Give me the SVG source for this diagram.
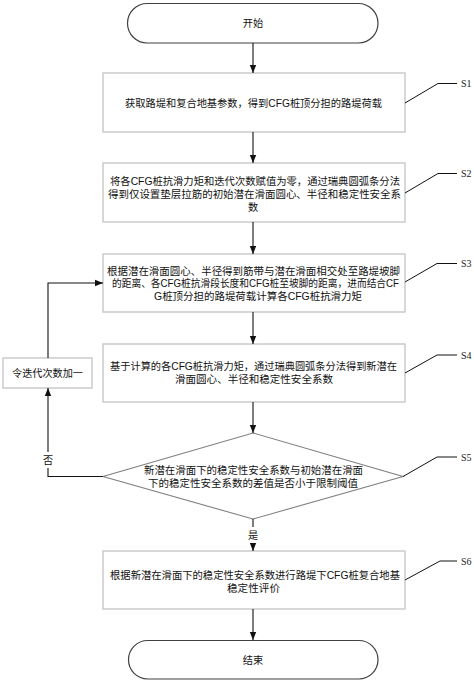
<svg xmlns="http://www.w3.org/2000/svg" width="474" height="684" viewBox="0 0 474 684">
<style>
.t{font-family:"Liberation Sans","Noto Sans CJK SC",sans-serif;font-size:10.2px;fill:#111;text-anchor:middle;dominant-baseline:central}
.lbl{font-family:"Liberation Serif",serif;font-size:10px;fill:#1a1a1a;dominant-baseline:central}
.box{fill:#fff;stroke:#c4c4c4;stroke-width:1.3}
.term{fill:#fff;stroke:#404040;stroke-width:1.2}
.dia{fill:#fff;stroke:#808080;stroke-width:1.1}
.ln{fill:none;stroke:#111;stroke-width:1.1}
.ld{fill:none;stroke:#111;stroke-width:1}
</style>
<defs>
<marker id="ah" markerUnits="userSpaceOnUse" markerWidth="8" markerHeight="8" viewBox="0 0 8 8" refX="8" refY="4" orient="auto">
<path d="M0,0.8 L8,4 L0,7.2 Z" fill="#111"/>
</marker>
</defs>
<rect width="474" height="684" fill="#fff"/>

<g id="start">
<rect class="term" x="127.5" y="3.5" width="250.5" height="39.5" rx="19.75"/>
<text class="t" x="253" y="23">开始</text>
</g>

<g id="s1">
<rect class="box" x="103" y="73" width="302" height="59"/>
<text class="t" x="253.5" y="103" textLength="257" lengthAdjust="spacingAndGlyphs">获取路堤和复合地基参数，得到CFG桩顶分担的路堤荷载</text>
</g>

<g id="s2">
<rect class="box" x="103" y="163" width="302" height="59"/>
<text class="t" x="255" y="181" textLength="290" lengthAdjust="spacingAndGlyphs">将各CFG桩抗滑力矩和迭代次数赋值为零，通过瑞典圆弧条分法</text>
<text class="t" x="254.5" y="194" textLength="293" lengthAdjust="spacingAndGlyphs">得到仅设置垫层拉筋的初始潜在滑面圆心、半径和稳定性安全系</text>
<text class="t" x="253" y="207">数</text>
</g>

<g id="s3">
<rect class="box" x="103" y="254" width="302" height="58"/>
<text class="t" x="253.5" y="271" textLength="293" lengthAdjust="spacingAndGlyphs">根据潜在滑面圆心、半径得到筋带与潜在滑面相交处至路堤坡脚</text>
<text class="t" x="255.5" y="283.5" textLength="287" lengthAdjust="spacingAndGlyphs">的距离、各CFG桩抗滑段长度和CFG桩至坡脚的距离，进而结合CF</text>
<text class="t" x="258" y="296" textLength="208" lengthAdjust="spacingAndGlyphs">G桩顶分担的路堤荷载计算各CFG桩抗滑力矩</text>
</g>

<g id="s4">
<rect class="box" x="103" y="344" width="302" height="58"/>
<text class="t" x="253.5" y="366.5" textLength="287" lengthAdjust="spacingAndGlyphs">基于计算的各CFG桩抗滑力矩，通过瑞典圆弧条分法得到新潜在</text>
<text class="t" x="254" y="379" textLength="158" lengthAdjust="spacingAndGlyphs">滑面圆心、半径和稳定性安全系数</text>
</g>

<g id="loop">
<rect class="box" x="3" y="358" width="89" height="30"/>
<text class="t" x="47.5" y="373" textLength="71" lengthAdjust="spacingAndGlyphs">令迭代次数加一</text>
</g>

<g id="s5">
<polygon class="dia" points="253,433 403,476.5 253,519 103,476.5"/>
<text class="t" x="253.5" y="470.5" textLength="219" lengthAdjust="spacingAndGlyphs">新潜在滑面下的稳定性安全系数与初始潜在滑面</text>
<text class="t" x="253" y="483" textLength="210" lengthAdjust="spacingAndGlyphs">下的稳定性安全系数的差值是否小于限制阈值</text>
</g>

<g id="s6">
<rect class="box" x="103" y="551" width="302" height="58"/>
<text class="t" x="255" y="575" textLength="290" lengthAdjust="spacingAndGlyphs">根据新潜在滑面下的稳定性安全系数进行路堤下CFG桩复合地基</text>
<text class="t" x="253.5" y="588" textLength="53" lengthAdjust="spacingAndGlyphs">稳定性评价</text>
</g>

<g id="end">
<rect class="term" x="128.5" y="640.5" width="249.5" height="38.5" rx="19.25"/>
<text class="t" x="253" y="660">结束</text>
</g>

<g id="connectors">
<line class="ln" x1="253" y1="43" x2="253" y2="73" marker-end="url(#ah)"/>
<line class="ln" x1="253" y1="132" x2="253" y2="163" marker-end="url(#ah)"/>
<line class="ln" x1="253" y1="222" x2="253" y2="254" marker-end="url(#ah)"/>
<line class="ln" x1="253" y1="312" x2="253" y2="344" marker-end="url(#ah)"/>
<line class="ln" x1="253" y1="402" x2="253" y2="433" marker-end="url(#ah)"/>
<line class="ln" x1="253" y1="519" x2="253" y2="527"/>
<line class="ln" x1="253" y1="543" x2="253" y2="551" marker-end="url(#ah)"/>
<text class="t" x="253" y="535">是</text>
<line class="ln" x1="253" y1="609" x2="253" y2="640" marker-end="url(#ah)"/>
<polyline class="ln" points="103,476.5 48,476.5 48,468"/>
<line class="ln" x1="48" y1="452" x2="48" y2="388" marker-end="url(#ah)"/>
<text class="t" x="48" y="460">否</text>
<polyline class="ln" points="48,358 48,283 103,283" marker-end="url(#ah)"/>
</g>

<g id="labels">
<polyline class="ld" points="405,103 438,83.5 457,83.5"/>
<text class="lbl" x="461" y="83.5">S1</text>
<polyline class="ld" points="405,193 438,173.5 457,173.5"/>
<text class="lbl" x="461" y="173.5">S2</text>
<polyline class="ld" points="405,282 437,263.5 457,263.5"/>
<text class="lbl" x="461" y="263.5">S3</text>
<polyline class="ld" points="405,373 437,355 457,355"/>
<text class="lbl" x="461" y="355">S4</text>
<polyline class="ld" points="403,476.5 437,457 457,457"/>
<text class="lbl" x="461" y="457">S5</text>
<polyline class="ld" points="405,580 440,561 457,561"/>
<text class="lbl" x="461" y="561">S6</text>
</g>
</svg>
